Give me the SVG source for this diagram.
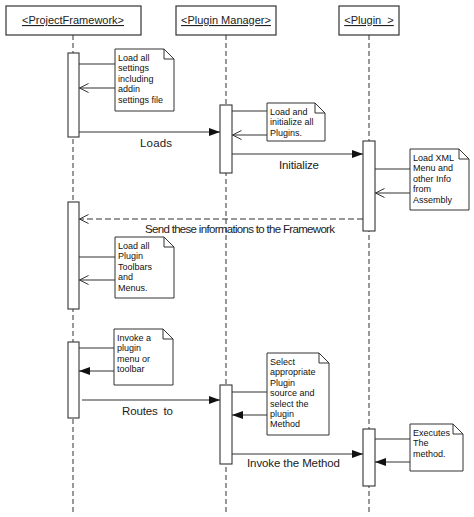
<svg xmlns="http://www.w3.org/2000/svg" width="474" height="517" viewBox="0 0 474 517">
<style>
.box{fill:#fff;stroke:#333;stroke-width:1.2}
.life{stroke:#333;stroke-width:1;stroke-dasharray:5,3;fill:none}
.act{fill:#fff;stroke:#333;stroke-width:1.1}
.note{fill:#fff;stroke:#333;stroke-width:1}
.fold{fill:none;stroke:#333;stroke-width:1}
.msg{stroke:#333;stroke-width:1.1;fill:none}
.dash{stroke:#333;stroke-width:1.1;fill:none;stroke-dasharray:6,3}
.hdr{font-family:"Liberation Sans",Arial,sans-serif;font-size:11px;fill:#222;text-anchor:middle;text-decoration:underline}
.lbl{font-family:"Liberation Sans",Arial,sans-serif;font-size:11.5px;fill:#222}
.nt{font-family:"Liberation Sans",Arial,sans-serif;font-size:9px;fill:#111}
</style>
<defs>
<marker id="filled" markerUnits="userSpaceOnUse" markerWidth="12" markerHeight="10" refX="11" refY="4" orient="auto">
<path d="M0,0 L11,4 L0,8 Z" fill="#111"/>
</marker>
<marker id="open" markerUnits="userSpaceOnUse" markerWidth="10" markerHeight="10" refX="9" refY="4.5" orient="auto">
<path d="M0,0 L9,4.5 L0,9" fill="none" stroke="#333" stroke-width="1"/>
</marker>
</defs>
<rect width="474" height="517" fill="#fff"/>

<g id="lifelines">
<line class="life" x1="73" y1="35" x2="73" y2="512"/>
<line class="life" x1="226" y1="35" x2="226" y2="512"/>
<line class="life" x1="369" y1="35" x2="369" y2="512"/>
</g>

<g id="ProjectFramework">
<rect class="box" x="6" y="6" width="135" height="29"/>
<text class="hdr" x="73" y="24">&lt;ProjectFramework&gt;</text>
</g>
<g id="PluginManager">
<rect class="box" x="176" y="6" width="100" height="29"/>
<text class="hdr" x="226" y="24">&lt;Plugin Manager&gt;</text>
</g>
<g id="Plugin">
<rect class="box" x="339" y="6" width="60" height="29"/>
<text class="hdr" x="369" y="24" xml:space="preserve">&lt;Plugin  &gt;</text>
</g>

<g id="activations">
<rect class="act" x="68" y="53" width="11" height="84"/>
<rect class="act" x="220" y="105" width="12" height="68"/>
<rect class="act" x="363" y="141" width="12" height="90"/>
<rect class="act" x="68" y="202" width="11" height="107"/>
<rect class="act" x="68" y="342" width="11" height="76"/>
<rect class="act" x="220" y="385" width="12" height="79"/>
<rect class="act" x="363" y="429" width="12" height="57"/>
</g>

<g id="note1">
<path class="note" d="M115,49 H164 L174,59 V111 H115 Z"/>
<path class="fold" d="M164,49 V59 H174"/>
<text class="nt" x="118" y="61">Load all</text>
<text class="nt" x="118" y="71.4">settings</text>
<text class="nt" x="118" y="81.8">including</text>
<text class="nt" x="118" y="92.2">addin</text>
<text class="nt" x="118" y="102.6">settings file</text>
</g>
<g id="note2">
<path class="note" d="M267,103 H315 L325,113 V141 H267 Z"/>
<path class="fold" d="M315,103 V113 H325"/>
<text class="nt" x="270" y="115">Load and</text>
<text class="nt" x="270" y="125.4">initialize all</text>
<text class="nt" x="270" y="135.8">Plugins.</text>
</g>
<g id="note3">
<path class="note" d="M410,149 H459 L469,159 V210 H410 Z"/>
<path class="fold" d="M459,149 V159 H469"/>
<text class="nt" x="413" y="161">Load XML</text>
<text class="nt" x="413" y="171.4">Menu and</text>
<text class="nt" x="413" y="181.8">other Info</text>
<text class="nt" x="413" y="192.2">from</text>
<text class="nt" x="413" y="202.6">Assembly</text>
</g>
<g id="note4">
<path class="note" d="M115,237 H164 L174,247 V298 H115 Z"/>
<path class="fold" d="M164,237 V247 H174"/>
<text class="nt" x="118" y="249">Load all</text>
<text class="nt" x="118" y="259.4">Plugin</text>
<text class="nt" x="118" y="269.8">Toolbars</text>
<text class="nt" x="118" y="280.2">and</text>
<text class="nt" x="118" y="290.6">Menus.</text>
</g>
<g id="note5">
<path class="note" d="M114,329 H163 L173,339 V385 H114 Z"/>
<path class="fold" d="M163,329 V339 H173"/>
<text class="nt" x="117" y="341">Invoke a</text>
<text class="nt" x="117" y="351.4">plugin</text>
<text class="nt" x="117" y="361.8">menu or</text>
<text class="nt" x="117" y="372.2">toolbar</text>
</g>
<g id="note6">
<path class="note" d="M267,353 H319 L329,363 V435 H267 Z"/>
<path class="fold" d="M319,353 V363 H329"/>
<text class="nt" x="270" y="365">Select</text>
<text class="nt" x="270" y="375.4">appropriate</text>
<text class="nt" x="270" y="385.8">Plugin</text>
<text class="nt" x="270" y="396.2">source and</text>
<text class="nt" x="270" y="406.6">select the</text>
<text class="nt" x="270" y="417">plugin</text>
<text class="nt" x="270" y="427.4">Method</text>
</g>
<g id="note7">
<path class="note" d="M410,424 H453 L463,434 V471 H410 Z"/>
<path class="fold" d="M453,424 V434 H463"/>
<text class="nt" x="413" y="436">Executes</text>
<text class="nt" x="413" y="446.4">The</text>
<text class="nt" x="413" y="456.8">method.</text>
</g>

<g id="connectors">
<line class="msg" x1="79" y1="64" x2="115" y2="64"/>
<line class="msg" x1="115" y1="88" x2="79.5" y2="88" marker-end="url(#open)"/>
<line class="msg" x1="79" y1="132" x2="220" y2="132" marker-end="url(#filled)"/>
<line class="msg" x1="232" y1="111" x2="267" y2="111"/>
<line class="msg" x1="267" y1="135" x2="232.5" y2="135" marker-end="url(#open)"/>
<line class="msg" x1="232" y1="154" x2="363" y2="154" marker-end="url(#filled)"/>
<line class="msg" x1="375" y1="169" x2="410" y2="169"/>
<line class="msg" x1="410" y1="193" x2="375.5" y2="193" marker-end="url(#open)"/>
<line class="dash" x1="363" y1="219" x2="79.5" y2="219" marker-end="url(#open)"/>
<line class="msg" x1="79" y1="257" x2="115" y2="257"/>
<line class="msg" x1="115" y1="280" x2="79.5" y2="280" marker-end="url(#open)"/>
<line class="msg" x1="79" y1="348" x2="114" y2="348"/>
<line class="msg" x1="114" y1="371" x2="79" y2="371" marker-end="url(#filled)"/>
<line class="msg" x1="82" y1="400" x2="220" y2="400" marker-end="url(#filled)"/>
<line class="msg" x1="232" y1="392" x2="267" y2="392"/>
<line class="msg" x1="267" y1="415" x2="232" y2="415" marker-end="url(#filled)"/>
<line class="msg" x1="232" y1="454" x2="363" y2="454" marker-end="url(#filled)"/>
<line class="msg" x1="375" y1="439" x2="410" y2="439"/>
<line class="msg" x1="410" y1="462" x2="375" y2="462" marker-end="url(#filled)"/>
</g>

<g id="labels">
<text class="lbl" x="140" y="147" textLength="32">Loads</text>
<text class="lbl" x="279" y="169" textLength="40">Initialize</text>
<text class="lbl" x="145" y="233" textLength="190">Send these informations to the Framework</text>
<text class="lbl" x="122" y="415" textLength="51" xml:space="preserve">Routes  to</text>
<text class="lbl" x="247" y="467" textLength="93">Invoke the Method</text>
</g>
</svg>
